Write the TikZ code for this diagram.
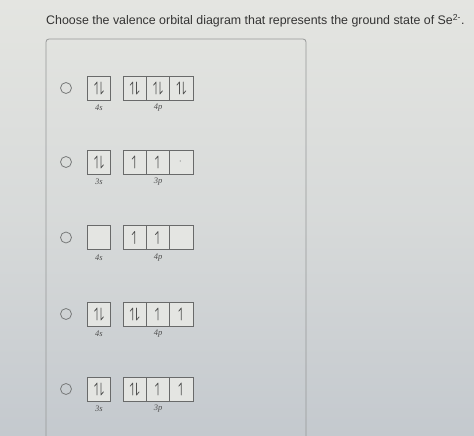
\documentclass[tikz,border=0pt]{standalone}
\usepackage{fontspec}
\setmainfont{Liberation Serif}
\newfontfamily\titlefont{Liberation Sans}
\begin{document}
\begin{tikzpicture}[x=1pt,y=-1pt,
  orb/.style={draw=boxgray,line width=0.9pt,minimum width=23.3pt,minimum height=24pt,inner sep=0pt,fill=boxfill},
  radio/.style={circle,draw=radiogray,line width=0.8pt,minimum size=11pt,inner sep=0pt},
  sub/.style={font=\fontsize{8.5}{9}\selectfont\itshape,text=labgray,inner sep=0pt},
  harp/.style={draw=arrgray,line width=0.75pt,line cap=round,line join=round},
  uph/.pic={\draw[harp] (0,6) -- (0,-6) -- (-2.6,-2.8);},
  dnh/.pic={\draw[harp] (0,-6) -- (0,6) -- (2.6,2.8);},
  pair/.pic={\pic at (-1.9,0) {uph}; \pic at (1.9,0) {dnh};}
]
\definecolor{bgtop}{RGB}{228,229,225}
\definecolor{bgbot}{RGB}{196,201,206}
\definecolor{boxgray}{RGB}{105,106,106}
\definecolor{boxfill}{RGB}{228,229,226}
\definecolor{radiogray}{RGB}{120,122,122}
\definecolor{labgray}{RGB}{80,80,80}
\definecolor{arrgray}{RGB}{80,80,80}
\definecolor{framegray}{RGB}{150,152,152}
\useasboundingbox (0,0) rectangle (474,436);
\shade[top color=bgtop,bottom color=bgbot,middle color=bgtop!60!bgbot] (0,0) rectangle (474,436);
\node[anchor=base west,inner sep=0pt,font=\titlefont\fontsize{12.4}{14}\selectfont,text=black!80] (title) at (46,25)
  {Choose the valence orbital diagram that represents the ground state of Se\textsuperscript{2-}.};
\draw[framegray,line width=0.8pt,rounded corners=3pt] (46,445) -- (46,39) -- (306,39) -- (306,445);
% rows
\foreach \r/\cy/\lab/\n in {1/88/4/a,2/162/3/b,3/237.5/4/c,4/314/4/d,5/389/3/e}{
  \node[radio] (r\n) at (66,\cy) {};
  \node[orb] (s\n) at (99,\cy) {};
  \node[orb] (p\n1) at (134.67,\cy) {};
  \node[orb] (p\n2) at (158,\cy) {};
  \node[orb] (p\n3) at (181.33,\cy) {};
  \node[sub] (ls\n) at (99,\cy+20) {\lab s};
  \node[sub] (lp\n) at (158,\cy+20) {\lab p};
}
% row 1
\pic at (sa) {pair}; \pic at (pa1) {pair}; \pic at (pa2) {pair}; \pic at (pa3) {pair};
% row 2
\pic at (sb) {pair}; \pic at (pb1) {uph}; \pic at (pb2) {uph};
\fill[arrgray!70] ([xshift=-1pt,yshift=1pt]pb3.center) circle (0.6pt);
% row 3
\pic at (pc1) {uph}; \pic at (pc2) {uph};
% row 4
\pic at (sd) {pair}; \pic at (pd1) {pair}; \pic at (pd2) {uph}; \pic at (pd3) {uph};
% row 5
\pic at (se) {pair}; \pic at (pe1) {pair}; \pic at (pe2) {uph}; \pic at (pe3) {uph};
\end{tikzpicture}
\end{document}
